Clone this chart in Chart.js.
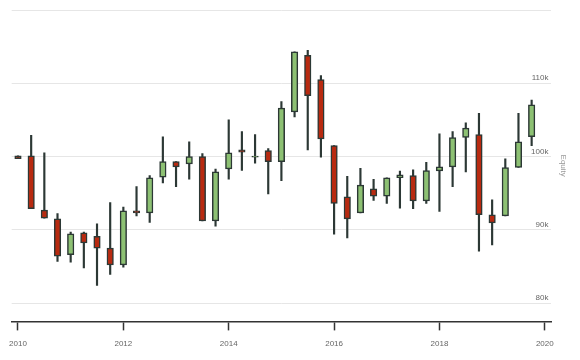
<!DOCTYPE html>
<html>
<head>
<meta charset="utf-8">
<script src="https://cdn.jsdelivr.net/npm/chart.js@4/dist/chart.umd.min.js"></script>
<style>
  html, body { margin: 0; padding: 0; background: #ffffff; }
  #wrap { width: 580px; height: 360px; position: relative; }
</style>
</head>
<body>
<div id="wrap"><canvas id="c" width="580" height="360"></canvas></div>
<script>
// Quarterly periods (YYYY-MM)
const periods = ['2010-01','2010-04','2010-07','2010-10','2011-01','2011-04','2011-07','2011-10',
  '2012-01','2012-04','2012-07','2012-10','2013-01','2013-04','2013-07','2013-10',
  '2014-01','2014-04','2014-07','2014-10','2015-01','2015-04','2015-07','2015-10',
  '2016-01','2016-04','2016-07','2016-10','2017-01','2017-04','2017-07','2017-10',
  '2018-01','2018-04','2018-07','2018-10','2019-01','2019-04','2019-07','2019-10'];
// Equity, in thousands
const opens  = [100.1,100.1,92.7,91.5,86.6,89.6,89.1,87.5,85.2,92.6,92.3,97.2,99.3,99.0,100.0,91.2,
  98.3,100.9,99.92,100.8,99.3,106.1,113.8,110.5,101.5,94.5,92.3,95.6,94.6,97.1,97.4,93.95,
  98.05,98.6,102.6,103.0,92.05,91.9,98.5,102.7];
const highs  = [100.1,102.9,100.5,92.2,89.7,89.7,90.8,93.7,93.1,95.9,97.4,102.7,99.3,102.0,100.4,98.3,
  105.0,103.4,103.0,101.1,107.5,114.3,114.5,111.05,101.5,97.3,98.4,96.9,97.1,98.0,98.2,99.2,
  103.1,103.4,104.6,105.9,94.1,99.7,105.9,107.7];
const lows   = [99.7,92.9,91.6,85.7,85.6,84.8,82.4,83.9,84.9,91.9,91.0,96.4,95.9,96.9,91.2,90.5,
  96.9,98.1,99.1,94.9,96.7,105.4,100.9,99.9,89.4,88.9,92.3,94.0,93.6,92.95,92.9,93.6,
  92.5,95.9,97.9,87.1,87.95,91.9,98.5,101.5];
const closes = [99.7,92.9,91.6,86.4,89.45,88.2,87.5,85.2,92.6,92.3,97.1,99.3,98.6,100.0,91.2,97.9,
  100.5,100.6,100.08,99.3,106.6,114.3,108.3,102.4,93.6,91.5,96.1,94.6,97.1,97.5,93.95,98.1,
  98.6,102.6,103.9,92.05,90.95,98.5,102.0,107.05];
const xTickValues = [2010, 2012, 2014, 2016, 2018, 2020];
const xTickLabels = ['2010', '2012', '2014', '2016', '2018', '2020'];
const yTickValues = [80, 90, 100, 110, 120];
const yTickLabels = ['80k', '90k', '100k', '110k', ''];

const UP = '#8dc173', DOWN = '#b82a10', EDGE = '#2c3835';
const toYear = p => { const [y, m] = p.split('-').map(Number); return y + (m - 1) / 12; };
const xs = periods.map(toYear);

const bodies = xs.map((x, i) => ({ x, y: [opens[i], closes[i]] }));
const wicks = xs.map((x, i) => ({ x, y: [lows[i], highs[i]] }));
const bodyColors = opens.map((o, i) => closes[i] >= o ? UP : DOWN);

const FONT = 'Liberation Sans, Arial, Helvetica, sans-serif';

new Chart(document.getElementById('c'), {
  type: 'bar',
  data: {
    datasets: [
      {
        label: 'body', data: bodies, order: 0, grouped: false,
        backgroundColor: bodyColors, borderColor: EDGE, borderWidth: 1.5,
        borderSkipped: false, barThickness: 6.5
      },
      {
        label: 'wick', data: wicks, order: 1, grouped: false,
        backgroundColor: EDGE, borderWidth: 0, barThickness: 1.5
      }
    ]
  },
  options: {
    responsive: false,
    animation: false,
    layout: { padding: { left: 8, right: 8, top: 10, bottom: 2 } },
    plugins: { legend: { display: false }, tooltip: { enabled: false } },
    scales: {
      x: {
        type: 'linear', position: 'bottom', offset: false,
        min: 2009.88, max: 2020.125,
        afterBuildTicks: s => { s.ticks = xTickValues.map(v => ({ value: v })); },
        grid: { display: true, offset: false, drawOnChartArea: false, drawTicks: true, tickLength: 9, tickColor: '#333333', tickWidth: 1.5 },
        border: { display: true, color: '#333333', width: 1.5 },
        ticks: {
          autoSkip: false, maxRotation: 0, padding: 9, color: '#666666',
          font: { family: FONT, size: 8 },
          callback: (v) => { const k = xTickValues.indexOf(v); return k >= 0 ? xTickLabels[k] : ''; }
        }
      },
      y: {
        type: 'linear', position: 'right',
        min: 77.5, max: 120,
        afterBuildTicks: s => { s.ticks = yTickValues.map(v => ({ value: v })); },
        grid: { color: '#e6e6e6', lineWidth: 1, drawTicks: false },
        border: { display: false },
        ticks: {
          mirror: true, padding: -3, labelOffset: -5, color: '#666666',
          font: { family: FONT, size: 8 },
          callback: (v) => { const k = yTickValues.indexOf(v); return k >= 0 ? yTickLabels[k] : ''; }
        },
        title: { display: true, text: 'Equity', color: '#999999', font: { family: FONT, size: 8 }, padding: { top: 4, bottom: 13 } }
      }
    }
  }
});
</script>
</body>
</html>
